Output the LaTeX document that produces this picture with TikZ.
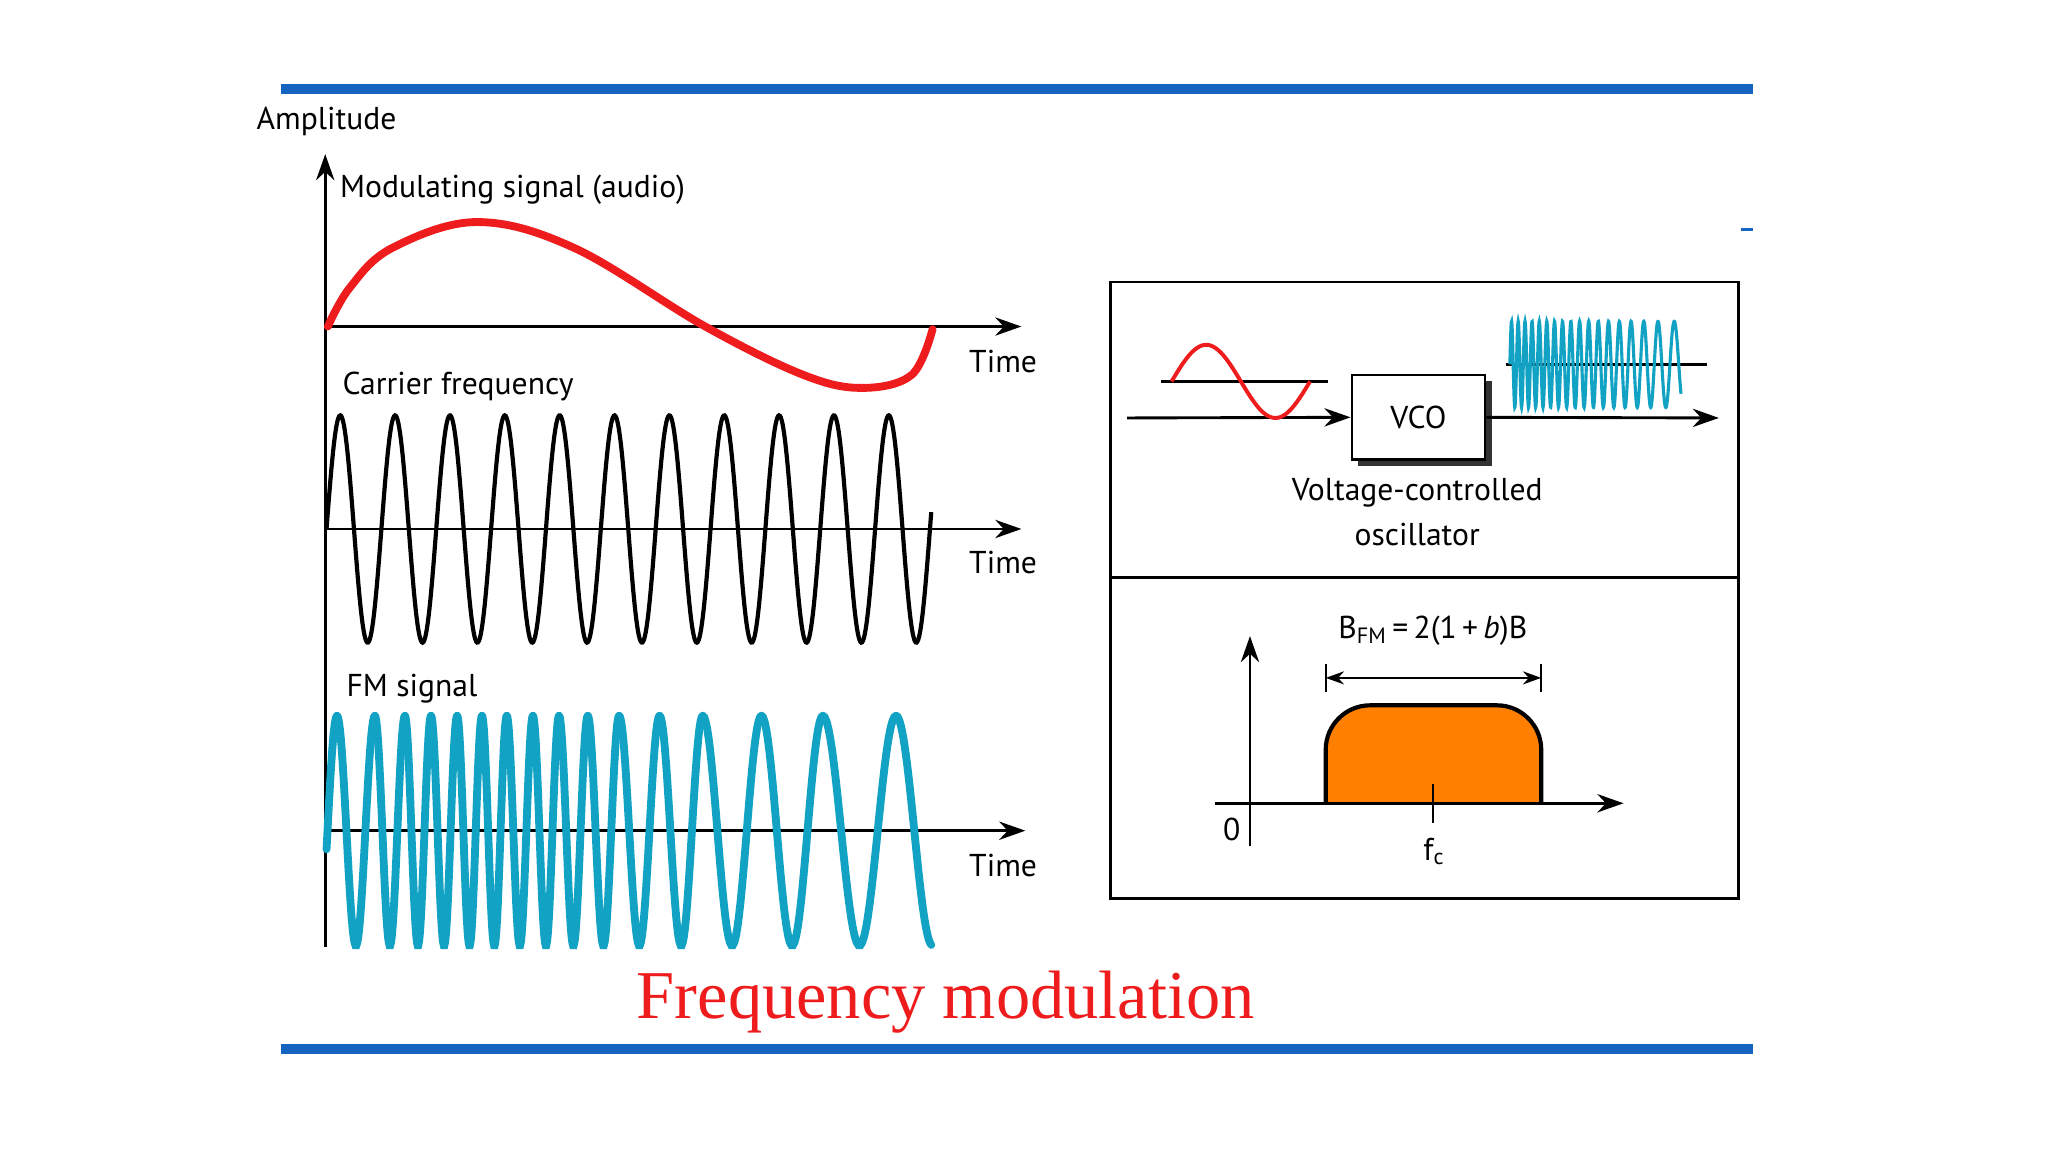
\documentclass[tikz,border=0pt]{standalone}
\usepackage{fontspec}
\setmainfont{PT Sans}
\newfontfamily\titlefont{Liberation Serif}
\usetikzlibrary{arrows.meta}
\definecolor{barblue}{HTML}{1565C0}
\definecolor{fmcyan}{HTML}{12A3C4}
\definecolor{sigred}{HTML}{EE1C1C}
\definecolor{orng}{HTML}{FF8000}
\tikzset{
  lbl/.style={font=\fontsize{12.1}{14}\selectfont, inner sep=0pt},
  axisarrow/.style={line width=1.1pt, -{Stealth[length=10pt,width=7pt]}},
  bar/.style={line width=4pt, barblue},
}
\begin{document}
\begin{tikzpicture}[x=0.5pt,y=-0.5pt]
\useasboundingbox (0,0) rectangle (1568,882);
\fill[white] (0,0) rectangle (1568,882);
% bars
\draw[bar] (215,68) -- (1342,68);
\draw[bar] (215,803) -- (1342,803);
\draw[barblue,line width=1.2pt] (1333,176) -- (1342,176);
% left axes
\node[lbl] (amp) at (250,93) {Amplitude};
\coordinate (va0) at (249,725); \coordinate (va1) at (249,118);
\draw[axisarrow] (va0) -- (va1);
\node[lbl,anchor=west] (modl) at (260,145) {Modulating signal (audio)};
\coordinate (t1a) at (249,250); \coordinate (t1b) at (782,250);
\draw[axisarrow] (t1a) -- (t1b);
\node[lbl] (time1) at (768,277) {Time};
\draw[sigred,line width=3pt,line cap=round] plot[smooth,tension=0.6] coordinates
 {(251,250) (268,220) (300,190) (365,170) (440,190) (540,250) (615,287) (660,297) (698,287) (714,252)};
\node[lbl,anchor=west] (carl) at (262,296) {Carrier frequency};
\coordinate (t2a) at (249,405); \coordinate (t2b) at (782,405);
\draw[axisarrow] (t2a) -- (t2b);
\node[lbl] (time2) at (768,431) {Time};
\draw[black,line width=1.6pt] plot[domain=250:713,samples=700] (\x,{405-87*sin(8.5714*(\x-250))});
\node[lbl,anchor=west] (fml) at (265,527) {FM signal};
\coordinate (t3a) at (249,636); \coordinate (t3b) at (785,636);
\draw[axisarrow] (t3a) -- (t3b);
\node[lbl] (time3) at (768,663) {Time};
\draw[fmcyan,line width=3pt,line cap=round] plot[domain=250:258,samples=10] (\x,{636-88*cos(360*(\x-258)/29)});
\foreach \a/\b in {258/287,287/310,310/330,330/350,350/369,369/388,388/408,408/428,428/450,450/474,474/505,505/538,538/583,583/630,630/686}
  \draw[fmcyan,line width=3pt,line cap=round] plot[domain=\a:\b,samples=40] (\x,{636-88*cos(360/(\b-\a)*(\x-\a))});
\draw[fmcyan,line width=3pt,line cap=round] plot[domain=686:713,samples=30] (\x,{636-88*cos(360/56*(\x-686))});
% right box
\draw[line width=1pt] (850,216) rectangle (1331,688);
\draw[line width=1pt] (850,442) -- (1331,442);
\fill[black!80] (1040,292) rectangle (1142,357);
\node[lbl,draw,fill=white,line width=1pt,minimum width=51pt,minimum height=32.5pt] (vco) at (1086,319.5) {VCO};
\coordinate (in) at (863,320); \coordinate (out) at (1316,320);
\draw[axisarrow] (in) -- (vco.west);
\draw[axisarrow] (vco.east) -- (out);
\draw[line width=1pt] (889,292) -- (1017,292);
\draw[sigred,line width=1.5pt] plot[domain=897:1003,samples=80] (\x,{292-28*sin(360/106*(\x-897))});
\draw[line width=1pt] (1153,279) -- (1307,279);
\draw[fmcyan,line width=1.2pt] plot[domain=0:131,samples=600] ({1156+\x},{279-33*sin(72*\x-0.18*\x*\x)});
\node[lbl] (vc1) at (1085,377) {Voltage-controlled};
\node[lbl] (vc2) at (1085,409) {oscillator};
% spectrum
\coordinate (sa0) at (957,648); \coordinate (sa1) at (957,487);
\draw[axisarrow] (sa0) -- (sa1);
\coordinate (ha0) at (930,615); \coordinate (ha1) at (1243,615);
\draw[line width=1.6pt,fill=orng,rounded corners=17pt] (1015,615) -- (1015,540) -- (1180,540) -- (1180,615);
\draw[axisarrow] (ha0) -- (ha1);
\node[lbl] (zero) at (943,635) {0};
\draw[line width=1pt] (1097,600) -- (1097,630);
\node[lbl] (fc) at (1098,652) {f\textsubscript{c}};
\coordinate (d0) at (1015,519); \coordinate (d1) at (1180,519);
\draw[line width=0.8pt] (1015,508) -- (1015,530) (1180,508) -- (1180,530);
\draw[line width=0.8pt,{Stealth[length=7pt,width=5pt]}-{Stealth[length=7pt,width=5pt]}] (d0) -- (d1);
\node[lbl] (bfm) at (1097,483) {B\textsubscript{FM}\,=\,2(1\,+\,\textit{b})B};
% title
\node[font=\titlefont\fontsize{26.2}{29}\selectfont,text=sigred,inner sep=0pt] (title) at (724,767) {Frequency modulation};
\end{tikzpicture}
\end{document}
